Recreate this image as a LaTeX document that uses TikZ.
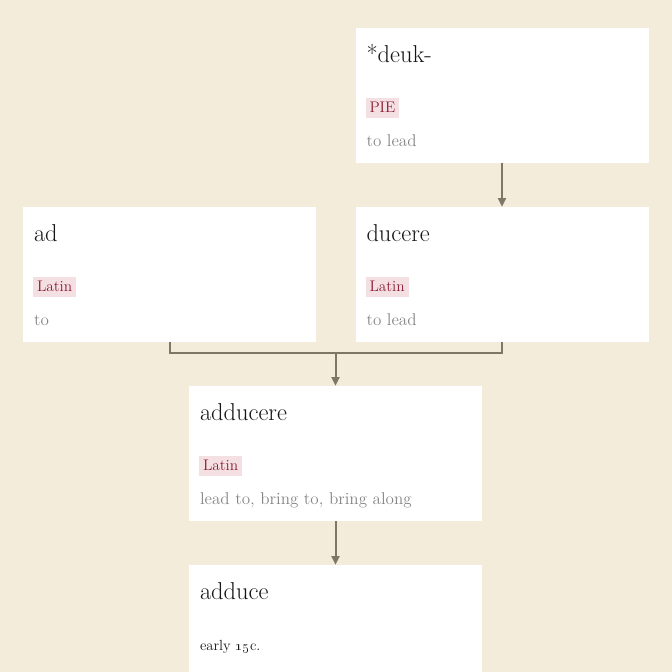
\documentclass[tikz,border=0pt]{standalone}
\usetikzlibrary{arrows.meta}
\definecolor{bgc}{HTML}{F3ECDA}
\definecolor{linec}{HTML}{7D7767}
\definecolor{tagbg}{HTML}{F4E0E3}
\definecolor{tagfg}{HTML}{8A1C32}
\definecolor{glossc}{HTML}{858585}
\definecolor{titlec}{HTML}{151515}
\tikzset{
  box/.style={fill=white, draw=none, inner sep=0pt, minimum width=219.75pt, minimum height=101.25pt},
  titletext/.style={anchor=base west, inner sep=0pt, text=titlec, font=\fontsize{18.3}{20}\selectfont},
  tagtext/.style={anchor=base west, fill=tagbg, text=tagfg, inner xsep=3pt, inner ysep=0pt, text height=11.25pt, text depth=3.75pt, font=\fontsize{11.5}{13}\selectfont},
  glosstext/.style={anchor=base west, inner sep=0pt, text=glossc, font=\fontsize{12.8}{14}\selectfont},
  datetext/.style={anchor=base west, inner sep=0pt, text=titlec, font=\fontsize{11}{13}\selectfont},
  conn/.style={draw=linec, line width=1.5pt},
  arr/.style={conn, -{Triangle[width=6pt,length=6.5pt]}}
}
\begin{document}
\begin{tikzpicture}[x=0.75pt,y=-0.75pt]
\useasboundingbox (0,0) rectangle (672,672);
\clip (0,0) rectangle (672,672);
\fill[bgc] (0,0) rectangle (672,672);

\node[box] (deuk) at (502,95.5) {};
\node[box] (ad) at (169.5,274.5) {};
\node[box] (ducere) at (502,274.5) {};
\node[box] (adducere) at (335.5,453.5) {};
\node[box] (adduce) at (335.5,632.5) {};

% deuk
\node[titletext] (t1) at ([shift={(11,35)}]deuk.north west) {*deuk-};
\node[tagtext] (g1) at ([shift={(10,85)}]deuk.north west) {PIE};
\node[glosstext] (m1) at ([shift={(11,119)}]deuk.north west) {to lead};
% ad
\node[titletext] (t2) at ([shift={(11,35)}]ad.north west) {ad};
\node[tagtext] (g2) at ([shift={(10,85)}]ad.north west) {Latin};
\node[glosstext] (m2) at ([shift={(11,119)}]ad.north west) {to};
% ducere
\node[titletext] (t3) at ([shift={(11,35)}]ducere.north west) {ducere};
\node[tagtext] (g3) at ([shift={(10,85)}]ducere.north west) {Latin};
\node[glosstext] (m3) at ([shift={(11,119)}]ducere.north west) {to lead};
% adducere
\node[titletext] (t4) at ([shift={(11,35)}]adducere.north west) {adducere};
\node[tagtext] (g4) at ([shift={(10,85)}]adducere.north west) {Latin};
\node[glosstext] (m4) at ([shift={(11,119)}]adducere.north west) {lead to, bring to, bring along};
% adduce
\node[titletext] (t5) at ([shift={(11,35)}]adduce.north west) {adduce};
\node[datetext] (d5) at ([shift={(11,86)}]adduce.north west) {early \oldstylenums{15}c.};

% connectors
\coordinate (j) at (335.5,353);
\draw[arr] (deuk.south) -- (ducere.north);
\draw[conn] (ad.south) |- (j) -| (ducere.south);
\draw[arr] (j) -- (adducere.north);
\draw[arr] (adducere.south) -- (adduce.north);
\end{tikzpicture}
\end{document}
